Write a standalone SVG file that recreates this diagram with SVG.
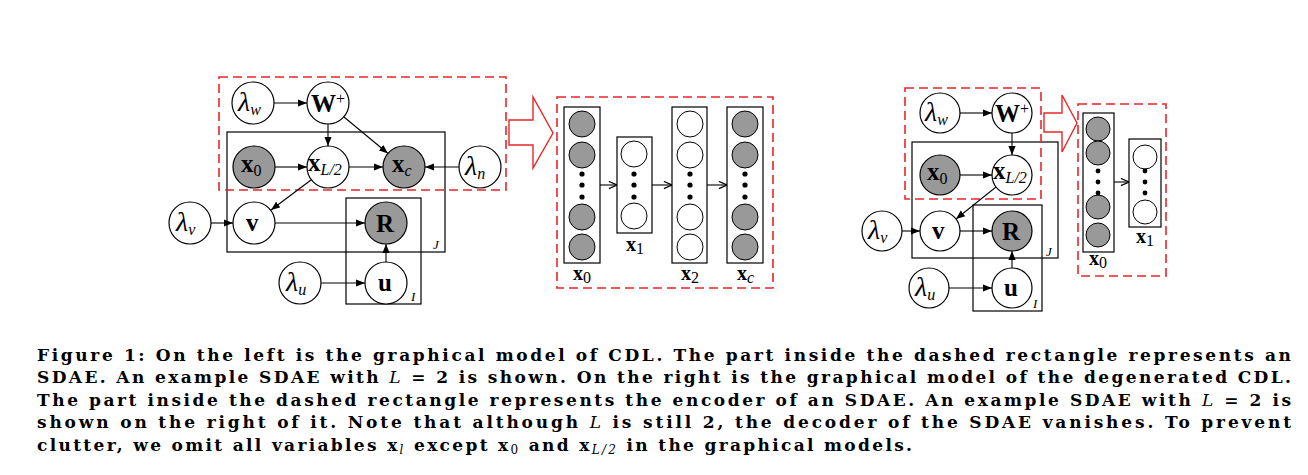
<svg xmlns="http://www.w3.org/2000/svg" width="1308" height="475" viewBox="0 0 1308 475">
<style>
.n{fill:#fff;stroke:#000;stroke-width:1.2}
.g{fill:#999;stroke:#000;stroke-width:1.2}
.s{fill:#999;stroke:#000;stroke-width:1}
.w{fill:#fff;stroke:#000;stroke-width:1}
.pl{fill:none;stroke:#000;stroke-width:1.2}
.rd{fill:none;stroke:#e8262a;stroke-width:1.6;stroke-dasharray:9,5}
.ra{fill:#fff;stroke:#e8262a;stroke-width:1.4}
.e{stroke:#000;stroke-width:1.1;fill:none;marker-end:url(#a)}
.o{stroke:#000;stroke-width:1.1;fill:none;marker-end:url(#o)}
text{font-family:"Liberation Serif",serif;fill:#000}
.gr{font-style:italic;font-size:28px}
.b{font-weight:bold;font-size:25px}
.c{font-weight:bold;font-size:20px}
.cap{font-family:"DejaVu Serif",serif;font-weight:bold;font-size:17px}
.sub{font-size:16px}
.ci{font-style:italic;font-size:13px}
</style>
<defs>
<marker id="a" viewBox="0 0 10 10" refX="10" refY="5" markerWidth="9" markerHeight="9" markerUnits="userSpaceOnUse" orient="auto"><path d="M0,1L10,5L0,9z"/></marker>
<marker id="o" viewBox="0 0 10 10" refX="10" refY="5" markerWidth="9" markerHeight="9" markerUnits="userSpaceOnUse" orient="auto"><path d="M1,1L10,5L1,9" fill="none" stroke="#000" stroke-width="1.3"/></marker>
</defs>
<g id="plates-left">
<rect class="pl" x="227" y="132" width="218" height="120"/>
<rect class="pl" x="346" y="198" width="75" height="106"/>
<text class="ci" x="433" y="249">J</text>
<text class="ci" x="411" y="301">I</text>
<rect class="rd" x="219" y="77" width="287" height="113"/>
</g>
<g id="connectors-left">
<line class="e" x1="274" y1="103" x2="307" y2="103"/>
<line class="e" x1="328" y1="124" x2="328" y2="146"/>
<line class="e" x1="344" y1="117" x2="388" y2="153.5"/>
<line class="e" x1="275" y1="167" x2="307" y2="167"/>
<line class="e" x1="349" y1="167" x2="383" y2="167"/>
<line class="e" x1="459" y1="167" x2="425" y2="167"/>
<line class="e" x1="311" y1="180" x2="271" y2="210"/>
<line class="e" x1="211" y1="223" x2="233" y2="223"/>
<line class="e" x1="275" y1="223" x2="365" y2="223"/>
<line class="e" x1="386" y1="262" x2="386" y2="244"/>
<line class="e" x1="321" y1="283" x2="365" y2="283"/>
</g>
<g id="L-lw"><circle class="n" cx="253" cy="103" r="21"/><text class="gr" x="238" y="111">λ<tspan class="sub" dy="4">w</tspan></text></g>
<g id="L-W"><circle class="n" cx="328" cy="103" r="21"/><text class="b" x="311" y="112">W<tspan class="sub" dy="-8" font-weight="normal">+</tspan></text></g>
<g id="L-x0"><circle class="g" cx="254" cy="167" r="21"/><text class="b" x="241" y="172">x<tspan class="sub" dy="4" font-weight="normal">0</tspan></text></g>
<g id="L-xL2"><circle class="n" cx="328" cy="167" r="21"/><text class="b" x="308" y="171">x<tspan class="sub" dy="4" font-style="italic" font-weight="normal">L/2</tspan></text></g>
<g id="L-xc"><circle class="g" cx="404" cy="167" r="21"/><text class="b" x="392" y="172">x<tspan class="sub" dy="4" font-style="italic" font-weight="normal">c</tspan></text></g>
<g id="L-ln"><circle class="n" cx="480" cy="167" r="21"/><text class="gr" x="465" y="175">λ<tspan class="sub" dy="4">n</tspan></text></g>
<g id="L-lv"><circle class="n" cx="190" cy="223" r="21"/><text class="gr" x="176" y="231">λ<tspan class="sub" dy="4">v</tspan></text></g>
<g id="L-v"><circle class="n" cx="254" cy="223" r="21"/><text class="b" x="246" y="231">v</text></g>
<g id="L-R"><circle class="g" cx="386" cy="223" r="21"/><text class="b" x="376" y="232">R</text></g>
<g id="L-lu"><circle class="n" cx="300" cy="283" r="21"/><text class="gr" x="286" y="291">λ<tspan class="sub" dy="4">u</tspan></text></g>
<g id="L-u"><circle class="n" cx="386" cy="283" r="21"/><text class="b" x="378" y="291">u</text></g>
<g id="arrow-left"><path class="ra" d="M509,120H533V97L553,133L533,168V145H509z"/></g>
<g id="sdae-left">
<rect class="rd" x="557" y="97" width="216" height="191"/>
<rect class="pl" x="564" y="107" width="36" height="156"/>
<rect class="pl" x="617" y="137" width="35" height="96"/>
<rect class="pl" x="672" y="107" width="35" height="156"/>
<rect class="pl" x="727" y="107" width="36" height="156"/>
<circle class="s" cx="582" cy="124" r="13"/><circle class="s" cx="582" cy="155" r="13"/><circle class="s" cx="582" cy="217" r="13"/><circle class="s" cx="582" cy="247" r="13"/>
<circle cx="582" cy="174" r="2.6"/><circle cx="582" cy="185" r="2.6"/><circle cx="582" cy="197" r="2.6"/>
<circle class="w" cx="634" cy="154" r="13"/><circle class="w" cx="634" cy="216" r="13"/>
<circle cx="634" cy="174" r="2.6"/><circle cx="634" cy="185" r="2.6"/><circle cx="634" cy="197" r="2.6"/>
<circle class="w" cx="690" cy="124" r="13"/><circle class="w" cx="690" cy="155" r="13"/><circle class="w" cx="690" cy="217" r="13"/><circle class="w" cx="690" cy="247" r="13"/>
<circle cx="690" cy="174" r="2.6"/><circle cx="690" cy="185" r="2.6"/><circle cx="690" cy="197" r="2.6"/>
<circle class="s" cx="745" cy="124" r="13"/><circle class="s" cx="745" cy="155" r="13"/><circle class="s" cx="745" cy="217" r="13"/><circle class="s" cx="745" cy="247" r="13"/>
<circle cx="745" cy="174" r="2.6"/><circle cx="745" cy="185" r="2.6"/><circle cx="745" cy="197" r="2.6"/>
<line class="o" x1="600" y1="185" x2="617" y2="185"/>
<line class="o" x1="652" y1="185" x2="672" y2="185"/>
<line class="o" x1="707" y1="185" x2="727" y2="185"/>
<text class="c" x="573" y="280">x<tspan class="sub" dy="3" font-weight="normal">0</tspan></text>
<text class="c" x="626" y="251">x<tspan class="sub" dy="3" font-weight="normal">1</tspan></text>
<text class="c" x="681" y="280">x<tspan class="sub" dy="3" font-weight="normal">2</tspan></text>
<text class="c" x="737" y="280">x<tspan class="sub" dy="3" font-style="italic" font-weight="normal">c</tspan></text>
</g>
<g id="plates-right">
<rect class="pl" x="912" y="142" width="146" height="116"/>
<rect class="pl" x="973" y="205" width="69" height="106"/>
<text class="ci" x="1046" y="256">J</text>
<text class="ci" x="1033" y="308">I</text>
<rect class="rd" x="905" y="88" width="136" height="111"/>
</g>
<g id="connectors-right">
<line class="e" x1="960" y1="113" x2="992" y2="113"/>
<line class="e" x1="1012" y1="133" x2="1012" y2="155"/>
<line class="e" x1="960" y1="175" x2="992" y2="175"/>
<line class="e" x1="996" y1="187" x2="956" y2="219"/>
<line class="e" x1="902" y1="231" x2="920" y2="231"/>
<line class="e" x1="960" y1="231" x2="992" y2="231"/>
<line class="e" x1="1012" y1="268" x2="1012" y2="251"/>
<line class="e" x1="949" y1="288" x2="992" y2="288"/>
</g>
<g id="R-lw"><circle class="n" cx="940" cy="113" r="20"/><text class="gr" x="925" y="121">λ<tspan class="sub" dy="4">w</tspan></text></g>
<g id="R-W"><circle class="n" cx="1012" cy="113" r="20"/><text class="b" x="995" y="122">W<tspan class="sub" dy="-8" font-weight="normal">+</tspan></text></g>
<g id="R-x0"><circle class="g" cx="940" cy="175" r="20"/><text class="b" x="927" y="180">x<tspan class="sub" dy="4" font-weight="normal">0</tspan></text></g>
<g id="R-xL2"><circle class="n" cx="1012" cy="175" r="20"/><text class="b" x="993" y="179">x<tspan class="sub" dy="4" font-style="italic" font-weight="normal">L/2</tspan></text></g>
<g id="R-lv"><circle class="n" cx="882" cy="231" r="20"/><text class="gr" x="868" y="239">λ<tspan class="sub" dy="4">v</tspan></text></g>
<g id="R-v"><circle class="n" cx="940" cy="231" r="20"/><text class="b" x="932" y="239">v</text></g>
<g id="R-R"><circle class="g" cx="1012" cy="231" r="20"/><text class="b" x="1002" y="240">R</text></g>
<g id="R-lu"><circle class="n" cx="929" cy="288" r="20"/><text class="gr" x="915" y="296">λ<tspan class="sub" dy="4">u</tspan></text></g>
<g id="R-u"><circle class="n" cx="1012" cy="288" r="20"/><text class="b" x="1004" y="296">u</text></g>
<g id="arrow-right"><path class="ra" d="M1044,113H1062V95L1077,123L1062,152V132H1044z"/></g>
<g id="sdae-right">
<rect class="rd" x="1078" y="104" width="88" height="172"/>
<rect class="pl" x="1083" y="113" width="31" height="139"/>
<rect class="pl" x="1129" y="139" width="32" height="88"/>
<circle class="s" cx="1098" cy="129" r="12"/><circle class="s" cx="1098" cy="153" r="12"/><circle class="s" cx="1098" cy="207" r="12"/><circle class="s" cx="1098" cy="235" r="12"/>
<circle cx="1098" cy="171" r="2.4"/><circle cx="1098" cy="182" r="2.4"/><circle cx="1098" cy="193" r="2.4"/>
<circle class="w" cx="1145" cy="157" r="12"/><circle class="w" cx="1145" cy="212" r="12"/>
<circle cx="1145" cy="171" r="2.4"/><circle cx="1145" cy="182" r="2.4"/><circle cx="1145" cy="193" r="2.4"/>
<line class="o" x1="1114" y1="182" x2="1129" y2="182"/>
<text class="c" x="1089" y="265">x<tspan class="sub" dy="3" font-weight="normal">0</tspan></text>
<text class="c" x="1136" y="243">x<tspan class="sub" dy="3" font-weight="normal">1</tspan></text>
</g>
<g id="caption">
<text class="cap" x="37" y="361" textLength="1254" lengthAdjust="spacing">Figure 1: On the left is the graphical model of CDL. The part inside the dashed rectangle represents an</text>
<text class="cap" x="37" y="383" textLength="1254" lengthAdjust="spacing">SDAE. An example SDAE with <tspan font-style="italic" font-weight="normal">L</tspan> = 2 is shown. On the right is the graphical model of the degenerated CDL.</text>
<text class="cap" x="37" y="406" textLength="1254" lengthAdjust="spacing">The part inside the dashed rectangle represents the encoder of an SDAE. An example SDAE with <tspan font-style="italic" font-weight="normal">L</tspan> = 2 is</text>
<text class="cap" x="37" y="428" textLength="1254" lengthAdjust="spacing">shown on the right of it. Note that although <tspan font-style="italic" font-weight="normal">L</tspan> is still 2, the decoder of the SDAE vanishes. To prevent</text>
<text class="cap" x="37" y="451" textLength="875" lengthAdjust="spacing">clutter, we omit all variables x<tspan font-size="12" font-style="italic" font-weight="normal" dy="3">l</tspan><tspan dy="-3"> except x</tspan><tspan font-size="12" font-weight="normal" dy="3">0</tspan><tspan dy="-3"> and x</tspan><tspan font-size="12" font-style="italic" font-weight="normal" dy="3">L/2</tspan><tspan dy="-3"> in the graphical models.</tspan></text>
</g>
</svg>
